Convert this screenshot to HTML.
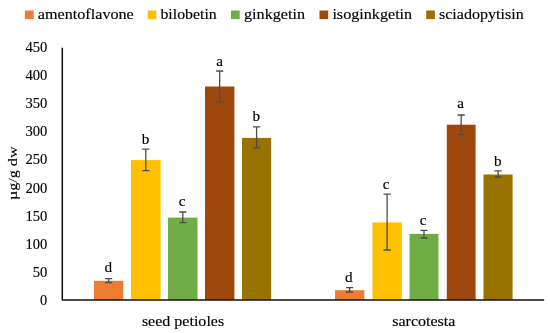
<!DOCTYPE html>
<html><head><meta charset="utf-8"><title>chart</title>
<style>
html,body{margin:0;padding:0;background:#fff;}
svg{display:block;}
text{font-family:"Liberation Serif",serif;fill:#000;stroke:#000;stroke-width:0.15px;}
</style></head><body>
<svg width="550" height="333" viewBox="0 0 550 333">
<rect width="550" height="333" fill="#fff"/>

<rect x="24.9" y="10.5" width="8.7" height="8.6" fill="#ED7D31"/>
<text x="37.8" y="19.2" font-size="15.4" textLength="96.0" lengthAdjust="spacingAndGlyphs">amentoflavone</text>
<rect x="147.7" y="10.5" width="8.7" height="8.6" fill="#FFC000"/>
<text x="160.4" y="19.2" font-size="15.4" textLength="56.4" lengthAdjust="spacingAndGlyphs">bilobetin</text>
<rect x="231" y="10.5" width="8.7" height="8.6" fill="#70AD47"/>
<text x="244.0" y="19.2" font-size="15.4" textLength="61.1" lengthAdjust="spacingAndGlyphs">ginkgetin</text>
<rect x="319.5" y="10.5" width="8.7" height="8.6" fill="#9E480E"/>
<text x="332.4" y="19.2" font-size="15.4" textLength="79.8" lengthAdjust="spacingAndGlyphs">isoginkgetin</text>
<rect x="426.2" y="10.5" width="8.7" height="8.6" fill="#997300"/>
<text x="439.0" y="19.2" font-size="15.4" textLength="84.7" lengthAdjust="spacingAndGlyphs">sciadopytisin</text>
<text x="40.1" y="304.9" font-size="15.5" textLength="7.2" lengthAdjust="spacingAndGlyphs">0</text>
<text x="32.7" y="276.8" font-size="15.5" textLength="14.6" lengthAdjust="spacingAndGlyphs">50</text>
<text x="25.4" y="248.7" font-size="15.5" textLength="21.9" lengthAdjust="spacingAndGlyphs">100</text>
<text x="25.4" y="220.6" font-size="15.5" textLength="21.9" lengthAdjust="spacingAndGlyphs">150</text>
<text x="25.4" y="192.5" font-size="15.5" textLength="21.9" lengthAdjust="spacingAndGlyphs">200</text>
<text x="25.4" y="164.4" font-size="15.5" textLength="21.9" lengthAdjust="spacingAndGlyphs">250</text>
<text x="25.4" y="136.3" font-size="15.5" textLength="21.9" lengthAdjust="spacingAndGlyphs">300</text>
<text x="25.4" y="108.2" font-size="15.5" textLength="21.9" lengthAdjust="spacingAndGlyphs">350</text>
<text x="25.4" y="80.1" font-size="15.5" textLength="21.9" lengthAdjust="spacingAndGlyphs">400</text>
<text x="25.4" y="52.0" font-size="15.5" textLength="21.9" lengthAdjust="spacingAndGlyphs">450</text>
<text transform="translate(17.2,200) rotate(-90) scale(1,0.72)" font-size="16" textLength="53.5" lengthAdjust="spacingAndGlyphs">µg/g dw</text>
<rect x="94.0" y="280.8" width="29.3" height="19.1" fill="#ED7D31"/>
<rect x="131.0" y="160.1" width="29.6" height="139.8" fill="#FFC000"/>
<rect x="168.0" y="217.6" width="29.5" height="82.3" fill="#70AD47"/>
<rect x="205.0" y="86.5" width="29.4" height="213.4" fill="#9E480E"/>
<rect x="242.0" y="137.9" width="29.2" height="162.0" fill="#997300"/>
<rect x="335.0" y="290.2" width="29.3" height="9.7" fill="#ED7D31"/>
<rect x="372.5" y="222.4" width="29.3" height="77.5" fill="#FFC000"/>
<rect x="409.5" y="233.9" width="29.0" height="66.0" fill="#70AD47"/>
<rect x="446.8" y="124.7" width="28.8" height="175.2" fill="#9E480E"/>
<rect x="483.5" y="174.5" width="29.1" height="125.4" fill="#997300"/>
<path d="M108.7 278.6V282.5M105.1 278.6H112.2M105.1 282.5H112.2" stroke="#4d4d4d" stroke-width="1.3" fill="none"/>
<text x="108.4" y="272.4" font-size="15.2" text-anchor="middle">d</text>
<path d="M145.8 149.1V170.6M142.2 149.1H149.4M142.2 170.6H149.4" stroke="#4d4d4d" stroke-width="1.3" fill="none"/>
<text x="145.5" y="144.1" font-size="15.2" text-anchor="middle">b</text>
<path d="M182.8 212.0V222.7M179.2 212.0H186.3M179.2 222.7H186.3" stroke="#4d4d4d" stroke-width="1.3" fill="none"/>
<text x="182.1" y="206.4" font-size="15.2" text-anchor="middle">c</text>
<path d="M219.7 71.0V101.9M216.1 71.0H223.3M216.1 101.9H223.3" stroke="#4d4d4d" stroke-width="1.3" fill="none"/>
<text x="219.7" y="65.9" font-size="15.2" text-anchor="middle">a</text>
<path d="M256.6 126.8V147.8M253.0 126.8H260.2M253.0 147.8H260.2" stroke="#4d4d4d" stroke-width="1.3" fill="none"/>
<text x="256.4" y="121.4" font-size="15.2" text-anchor="middle">b</text>
<path d="M349.6 287.6V292.0M346.0 287.6H353.2M346.0 292.0H353.2" stroke="#4d4d4d" stroke-width="1.3" fill="none"/>
<text x="348.7" y="282.3" font-size="15.2" text-anchor="middle">d</text>
<path d="M387.1 194.1V250.0M383.5 194.1H390.8M383.5 250.0H390.8" stroke="#4d4d4d" stroke-width="1.3" fill="none"/>
<text x="386.0" y="188.8" font-size="15.2" text-anchor="middle">c</text>
<path d="M424.0 230.4V238.0M420.4 230.4H427.6M420.4 238.0H427.6" stroke="#4d4d4d" stroke-width="1.3" fill="none"/>
<text x="423.1" y="224.6" font-size="15.2" text-anchor="middle">c</text>
<path d="M461.2 115.0V134.7M457.6 115.0H464.8M457.6 134.7H464.8" stroke="#4d4d4d" stroke-width="1.3" fill="none"/>
<text x="460.6" y="107.9" font-size="15.2" text-anchor="middle">a</text>
<path d="M498.1 170.9V177.0M494.4 170.9H501.7M494.4 177.0H501.7" stroke="#4d4d4d" stroke-width="1.3" fill="none"/>
<text x="497.7" y="165.9" font-size="15.2" text-anchor="middle">b</text>
<path d="M62.3 47.8V299.9H544.2" stroke="#111" stroke-width="1.5" stroke-linejoin="round" fill="none"/>
<text x="141.9" y="325.5" font-size="15.4" textLength="82.3" lengthAdjust="spacingAndGlyphs">seed petioles</text>
<text x="392.2" y="325.5" font-size="15.4" textLength="63.2" lengthAdjust="spacingAndGlyphs">sarcotesta</text>
</svg></body></html>
